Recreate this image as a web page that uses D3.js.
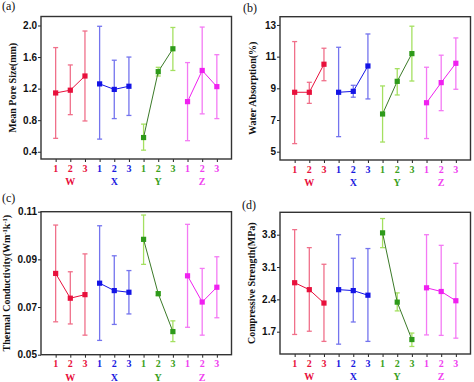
<!DOCTYPE html>
<html>
<head>
<meta charset="utf-8">
<script src="https://cdn.jsdelivr.net/npm/d3@7"></script>
<style>
  body { margin: 0; background: #fff; }
  svg { display: block; }
</style>
</head>
<body>
<svg id="chart"></svg>
<script>
const width = 474, height = 382;

// Categories
const groups = ["W", "X", "Y", "Z"];
const levels = ["1", "2", "3"];

// (a) Mean pore size
const poreSize     = [1.145, 1.18, 1.36, 1.26, 1.19, 1.23, 0.58, 1.415, 1.705, 1.035, 1.43, 1.225];
const poreSizeLow  = [0.57, 0.87, 0.79, 0.56, 0.82, 0.86, 0.42, 1.36, 1.43, 0.54, 0.88, 0.82];
const poreSizeHigh = [1.72, 1.50, 1.93, 1.99, 1.56, 1.60, 0.75, 1.47, 1.975, 1.53, 1.98, 1.63];
const poreTicks = [0.4, 0.8, 1.2, 1.6, 2.0];

// (b) Water absorption
const waterAbs     = [8.75, 8.75, 10.52, 8.75, 8.81, 10.41, 7.38, 9.44, 11.19, 8.09, 9.36, 10.58];
const waterAbsLow  = [5.51, 8.05, 9.48, 5.95, 8.44, 8.33, 5.61, 8.58, 9.46, 5.83, 7.59, 8.94];
const waterAbsHigh = [11.95, 9.38, 11.53, 11.59, 9.19, 12.43, 9.15, 10.24, 12.92, 10.33, 11.09, 12.18];
const waterTicks = [5, 7, 9, 11, 13];

// (c) Thermal conductivity
const thermal     = [0.0841, 0.0737, 0.0752, 0.0800, 0.0769, 0.0762, 0.0984, 0.0756, 0.0597, 0.0831, 0.0721, 0.0783];
const thermalLow  = [0.0638, 0.0629, 0.0582, 0.0560, 0.0627, 0.0671, 0.0879, 0.0748, 0.0555, 0.0615, 0.0582, 0.0655];
const thermalHigh = [0.1044, 0.0848, 0.0923, 0.1041, 0.0915, 0.0853, 0.1086, 0.0764, 0.0642, 0.1047, 0.0862, 0.0911];
const thermalTicks = [0.05, 0.07, 0.09, 0.11];

// (d) Compressive strength
const strength     = [2.76, 2.61, 2.32, 2.61, 2.59, 2.49, 3.84, 2.34, 1.53, 2.65, 2.57, 2.37];
const strengthLow  = [1.64, 1.71, 1.49, 1.43, 1.91, 1.49, 3.52, 2.15, 1.38, 1.63, 1.62, 1.56];
const strengthHigh = [3.91, 3.52, 3.16, 3.80, 3.29, 3.50, 4.15, 2.54, 1.67, 3.80, 3.57, 3.18];
const strengthTicks = [1.7, 2.4, 3.1, 3.8];

// group colours: marker, error bar, connecting line, label
const markColor  = ["#e8103c", "#1414e6", "#2e9a1a", "#f020f0"];
const errColor   = ["#f0708a", "#7474ee", "#a4e060", "#f47af4"];
const lineColor  = ["#e8103c", "#1414e6", "#3b7a28", "#f020f0"];
const labelColor = ["#e8103c", "#1a1ae0", "#3aa020", "#f040f0"];

const svg = d3.select("#chart")
    .attr("width", width)
    .attr("height", height)
    .style("font-family", "'Liberation Serif', 'Times New Roman', serif");

function drawPanel(p) {
    const x = d3.scaleLinear().domain([0, 13]).range([p.left, p.right]);
    const y = d3.scaleLinear().domain(p.domain).range([p.bottom, p.top]);
    const g = svg.append("g");

    // rows: one per point
    const rows = p.values.map((v, i) => ({
        pos: i + 1,
        v: v,
        lo: p.low[i],
        hi: p.high[i],
        gi: Math.floor(i / 3)
    }));

    // y axis
    g.append("g")
        .attr("transform", `translate(${p.left},0)`)
        .call(d3.axisLeft(y).tickValues(p.ticks).tickFormat(d3.format(p.fmt)).tickSize(3).tickPadding(1))
        .call(a => a.select(".domain").remove())
        .call(a => a.selectAll("text").attr("font-size", 10).attr("font-weight", "bold").attr("fill", "#111"))
        .call(a => a.selectAll("line").attr("stroke", "#222"));

    // x ticks
    g.append("g")
        .attr("transform", `translate(0,${p.bottom})`)
        .call(d3.axisBottom(x).tickValues(d3.range(1, 13)).tickSize(3).tickFormat(""))
        .call(a => a.select(".domain").remove())
        .call(a => a.selectAll("line").attr("stroke", "#222"));

    // x labels 1,2,3 coloured by group
    g.selectAll(".lvl").data(rows).enter().append("text")
        .attr("x", d => x(d.pos))
        .attr("y", p.bottom + 12.5)
        .attr("text-anchor", "middle")
        .attr("font-size", 10)
        .attr("font-weight", "bold")
        .attr("fill", d => labelColor[d.gi])
        .text(d => levels[(d.pos - 1) % 3]);

    g.selectAll(".grp").data(groups).enter().append("text")
        .attr("x", (d, i) => x(i * 3 + 2))
        .attr("y", p.bottom + 26)
        .attr("text-anchor", "middle")
        .attr("font-size", 10)
        .attr("font-weight", "bold")
        .attr("fill", (d, i) => labelColor[i])
        .text(d => d);

    // error bars
    const eb = g.selectAll(".eb").data(rows).enter().append("g")
        .attr("stroke", d => errColor[d.gi])
        .attr("stroke-width", 1.3);
    eb.append("line")
        .attr("x1", d => x(d.pos)).attr("x2", d => x(d.pos))
        .attr("y1", d => y(d.lo)).attr("y2", d => y(d.hi));
    eb.append("line")
        .attr("x1", d => x(d.pos) - 2.5).attr("x2", d => x(d.pos) + 2.5)
        .attr("y1", d => y(d.hi)).attr("y2", d => y(d.hi));
    eb.append("line")
        .attr("x1", d => x(d.pos) - 2.5).attr("x2", d => x(d.pos) + 2.5)
        .attr("y1", d => y(d.lo)).attr("y2", d => y(d.lo));

    // connecting lines per group
    const line = d3.line().x(d => x(d.pos)).y(d => y(d.v));
    groups.forEach((gname, gi) => {
        g.append("path")
            .datum(rows.filter(r => r.gi === gi))
            .attr("fill", "none")
            .attr("stroke", lineColor[gi])
            .attr("stroke-width", 1)
            .attr("d", line);
    });

    // square markers
    g.selectAll(".mk").data(rows).enter().append("rect")
        .attr("x", d => x(d.pos) - 2.6)
        .attr("y", d => y(d.v) - 2.6)
        .attr("width", 5.2)
        .attr("height", 5.2)
        .attr("fill", d => markColor[d.gi]);

    // frame
    g.append("rect")
        .attr("x", p.left).attr("y", p.top)
        .attr("width", p.right - p.left).attr("height", p.bottom - p.top)
        .attr("fill", "none")
        .attr("stroke", "#333")
        .attr("stroke-width", 1.4);

    // y title
    const title = g.append("text")
        .attr("transform", `translate(${p.titleX},${(p.top + p.bottom) / 2}) rotate(-90)`)
        .attr("text-anchor", "middle")
        .attr("font-size", 10)
        .attr("font-weight", "bold")
        .attr("fill", "#111");
    p.title.forEach(part => {
        const ts = title.append("tspan").text(part[0]);
        if (part[1]) ts.attr("baseline-shift", "super").attr("font-size", 6.5);
    });

    // panel label
    g.append("text")
        .attr("x", p.labelX).attr("y", p.labelY)
        .attr("font-size", 12)
        .attr("fill", "#111")
        .text(p.label);
}

drawPanel({
    left: 41, right: 231.5, top: 16.5, bottom: 159,
    domain: [0.308, 2.114], ticks: poreTicks, fmt: ".1f",
    values: poreSize, low: poreSizeLow, high: poreSizeHigh,
    title: [["Mean Pore Size(mm)"]], titleX: 16,
    label: "(a)", labelX: 2, labelY: 10
});

drawPanel({
    left: 280, right: 470.5, top: 16.7, bottom: 160,
    domain: [4.476, 13.52], ticks: waterTicks, fmt: "d",
    values: waterAbs, low: waterAbsLow, high: waterAbsHigh,
    title: [["Water Absorption(%)"]], titleX: 256,
    label: "(b)", labelX: 243, labelY: 12
});

drawPanel({
    left: 41, right: 231.5, top: 211.7, bottom: 354.7,
    domain: [0.05, 0.11], ticks: thermalTicks, fmt: ".2f",
    values: thermal, low: thermalLow, high: thermalHigh,
    title: [["Thermal Conductivity(Wm"], ["-1", true], ["k"], ["-1", true], [")"]], titleX: 10,
    label: "(c)", labelX: 2, labelY: 202
});

drawPanel({
    left: 280, right: 470.5, top: 212.3, bottom: 354,
    domain: [1.217, 4.285], ticks: strengthTicks, fmt: ".1f",
    values: strength, low: strengthLow, high: strengthHigh,
    title: [["Compressive Strength(MPa)"]], titleX: 255,
    label: "(d)", labelX: 242, labelY: 209
});
</script>
</body>
</html>
